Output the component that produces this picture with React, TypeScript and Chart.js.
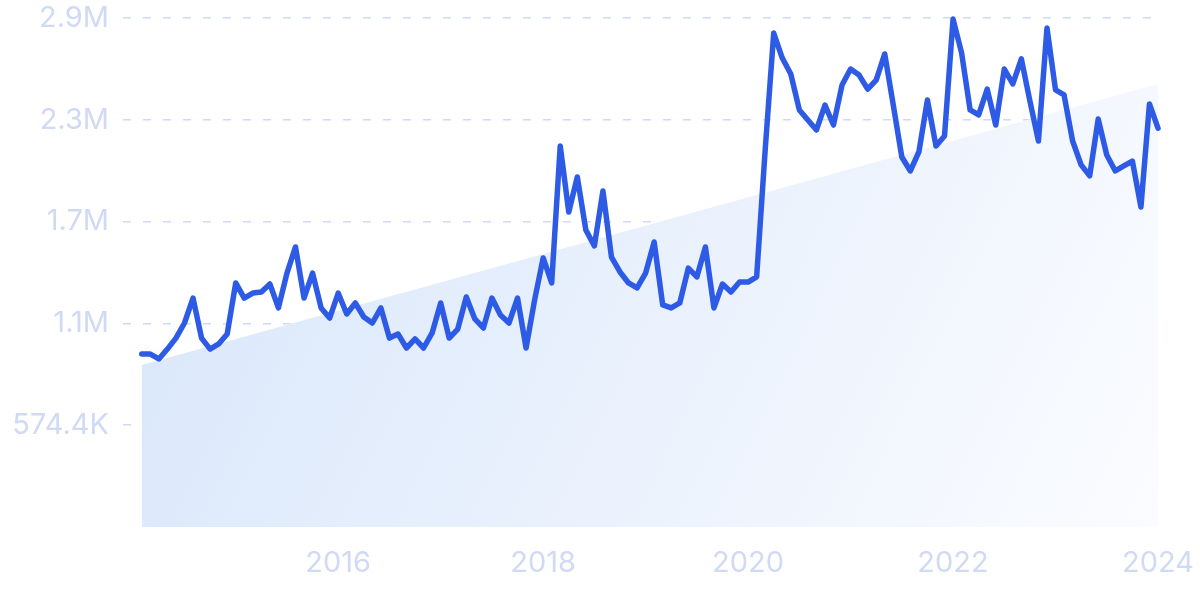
import { useEffect, useRef } from "react";
import { Chart, registerables } from "chart.js";

Chart.register(...registerables);

// series starts Feb 2014, one value per month up to Jan 2024
const startYear = 2014;
const startMonth = 1; // 0 = January

const monthlyValues: number[] = [
  976000, 976000, 948000, 1004000, 1066000, 1151000, 1292000, 1066000, 1004000, 1033000,
  1089000, 1377000, 1292000, 1320000, 1326000, 1371000, 1236000, 1433000, 1580000, 1292000,
  1433000, 1236000, 1179000, 1320000, 1202000, 1264000, 1185000, 1151000, 1236000, 1066000,
  1089000, 1010000, 1061000, 1010000, 1095000, 1264000, 1066000, 1117000, 1298000, 1174000,
  1123000, 1292000, 1196000, 1151000, 1292000, 1010000, 1281000, 1518000, 1377000, 2150000,
  1777000, 1975000, 1676000, 1586000, 1896000, 1523000, 1439000, 1377000, 1349000, 1433000,
  1608000, 1253000, 1236000, 1264000, 1461000, 1411000, 1580000, 1236000, 1371000, 1326000,
  1382000, 1382000, 1411000, 2127000, 2787000, 2646000, 2556000, 2353000, 2296000, 2240000,
  2381000, 2268000, 2494000, 2584000, 2550000, 2471000, 2522000, 2669000, 2381000, 2088000,
  2009000, 2116000, 2409000, 2150000, 2206000, 2866000, 2675000, 2353000, 2325000, 2471000,
  2268000, 2584000, 2500000, 2641000, 2404000, 2178000, 2816000, 2466000, 2438000, 2178000,
  2043000, 1981000, 2302000, 2099000, 2009000, 2037000, 2065000, 1806000, 2387000, 2251000,
];

// trend line end values
const trendStart = 914000;
const trendEnd = 2500000;

const yTicks = [0, 574400, 1148800, 1723200, 2297600, 2872000];
const xTickYears = [2016, 2018, 2020, 2022, 2024];
const xMin = 2013.9;

const formatValue = (v: number) => {
  if (v === 0) return "";
  if (v >= 1e6) return (v / 1e6).toFixed(1) + "M";
  return (v / 1e3).toFixed(1) + "K";
};

const App = () => {
  const canvasRef = useRef<HTMLCanvasElement | null>(null);

  useEffect(() => {
    document.body.style.margin = "0";
    const canvas = canvasRef.current;
    if (!canvas) return;

    const points = monthlyValues.map((v, i) => ({
      x: startYear + (startMonth + i) / 12,
      y: v,
    }));
    const firstX = points[0].x;
    const lastX = points[points.length - 1].x;

    const tickFont = { family: "Inter", size: 29 };
    const tickColor = "#d0daf4";

    const chart = new Chart(canvas, {
      type: "line",
      data: {
        datasets: [
          {
            data: points,
            borderColor: "#2e5be6",
            borderWidth: 5.5,
            borderJoinStyle: "round",
            borderCapStyle: "round",
            pointRadius: 0,
            tension: 0,
            fill: false,
            clip: false,
          },
          {
            data: [
              { x: firstX, y: trendStart },
              { x: lastX, y: trendEnd },
            ],
            borderWidth: 0,
            pointRadius: 0,
            fill: "origin",
            backgroundColor: (c: any) => {
              const { ctx, chartArea } = c.chart;
              if (!chartArea) return "rgba(220,233,250,1)";
              const g = ctx.createLinearGradient(
                chartArea.left,
                chartArea.top,
                chartArea.right,
                chartArea.bottom
              );
              g.addColorStop(0, "rgb(214,229,250)");
              g.addColorStop(1, "rgb(251,252,255)");
              return g;
            },
          },
        ],
      },
      options: {
        animation: false,
        responsive: true,
        maintainAspectRatio: false,
        layout: { padding: { top: 18, right: 42, left: 0, bottom: 0 } },
        plugins: {
          legend: { display: false },
          tooltip: { enabled: false },
        },
        scales: {
          x: {
            type: "linear",
            min: xMin,
            max: lastX,
            afterBuildTicks: (s: any) => {
              s.ticks = xTickYears.map((v) => ({ value: v }));
            },
            afterFit: (s: any) => {
              s.height = 72;
              s.paddingLeft = 0;
              s.paddingRight = 0;
            },
            grid: { display: false },
            border: { display: false },
            ticks: {
              color: tickColor,
              font: tickFont,
              padding: 11,
              maxRotation: 0,
              callback: (v: any) => String(v),
            },
          },
          y: {
            min: 0,
            max: yTicks[yTicks.length - 1],
            afterBuildTicks: (s: any) => {
              s.ticks = yTicks.map((v) => ({ value: v }));
            },
            afterFit: (s: any) => {
              s.width = 123;
              s.paddingTop = 0;
              s.paddingBottom = 0;
            },
            border: { display: false, dash: [8, 12] },
            grid: {
              color: (c: any) => (c.tick && c.tick.value === 0 ? "rgba(0,0,0,0)" : "#cbdcfa"),
              lineWidth: 1.5,
              drawTicks: false,
            },
            ticks: {
              color: tickColor,
              font: tickFont,
              padding: 14,
              callback: (v: any) => formatValue(Number(v)),
            },
          },
        },
      },
    } as any);

    return () => {
      chart.destroy();
    };
  }, []);

  return (
    <div style={{ position: "relative", width: 1200, height: 599 }}>
      <canvas ref={canvasRef}></canvas>
    </div>
  );
};

export default App;
